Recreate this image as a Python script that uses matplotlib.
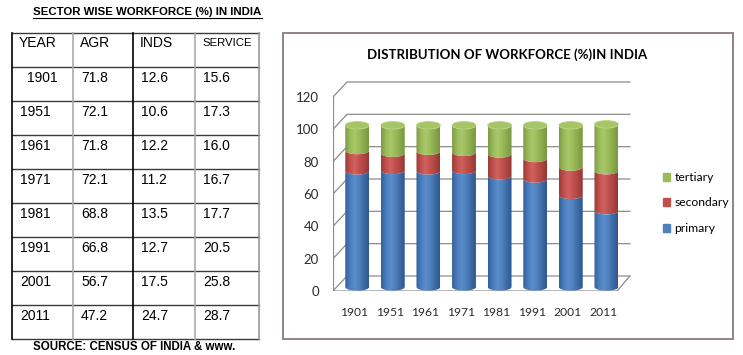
import numpy as np
import matplotlib
matplotlib.use('Agg')
import matplotlib.pyplot as plt
from matplotlib.patches import PathPatch, Ellipse, Rectangle, Patch
from matplotlib.path import Path
from matplotlib.colors import LinearSegmentedColormap

# data (census of india, sector wise workforce %)
years = ['1901', '1951', '1961', '1971', '1981', '1991', '2001', '2011']
agr = [71.8, 72.1, 71.8, 72.1, 68.8, 66.8, 56.7, 47.2]
inds = [12.6, 10.6, 12.2, 11.2, 13.5, 12.7, 17.5, 24.7]
service = [15.6, 17.3, 16.0, 16.7, 17.7, 20.5, 25.8, 28.7]
table_header = ['YEAR', 'AGR', 'INDS', 'SERVICE']
series_names = ['primary', 'secondary', 'tertiary']
yticks = [0, 20, 40, 60, 80, 100, 120]

W, H = 743, 355
fig = plt.figure(figsize=(W/100, H/100), dpi=100)

# overlay in pixel coords for the table and the chart frame
ov = fig.add_axes([0, 0, 1, 1])
ov.set_xlim(0, W)
ov.set_ylim(H, 0)
ov.axis('off')

tfont = 'Liberation Sans'
ov.text(33, 12, 'SECTOR WISE WORKFORCE (%) IN INDIA', fontsize=8.2, fontweight='bold',
        family=tfont, va='center', ha='left')
ov.plot([33, 262], [17.5, 17.5], color='black', lw=0.8)

col_x = [12, 73, 133, 195, 259]
col_colors = ['black', '#aaaaaa', 'black', '#aaaaaa', '#999999']
row_y = [33 + 34*k for k in range(10)]
for y in row_y:
    ov.plot([col_x[0], col_x[-1]], [y, y], color='#3a3a3a', lw=1.0)
for x, c in zip(col_x, col_colors):
    ov.plot([x, x], [row_y[0], row_y[-1]], color=c, lw=1.2)

for j, h in enumerate(table_header):
    fs = 8.2 if h == 'SERVICE' else 10
    ov.text(col_x[j] + 7, row_y[0] + 10, h, fontsize=fs, family=tfont, va='center', ha='left')

for i in range(len(years)):
    yy = row_y[i+1] + 11
    xoff = 15 if i == 0 else 8
    vals = [years[i], '%.1f' % agr[i], '%.1f' % inds[i], '%.1f' % service[i]]
    for j, v in enumerate(vals):
        ov.text(col_x[j] + (xoff if j == 0 else 8), yy, v, fontsize=10, family=tfont,
                va='center', ha='left')

ov.text(33, 347, 'SOURCE: CENSUS OF INDIA & www.', fontsize=8.3, fontweight='bold',
        family=tfont, va='center', ha='left')

# chart frame + title
ov.add_patch(Rectangle((283, 33), 450, 306, fill=False, edgecolor='#8a7b7b', lw=1.3))
ov.text(507, 55, 'DISTRIBUTION OF WORKFORCE (%)IN INDIA', ha='center', va='center',
        family='Lato', fontweight='bold', fontsize=9.5)

# chart axes, data coords
sx, sy = 35.6, 1.6167
ax = fig.add_axes([(354 - 0.6*sx)/W, 1 - 291/H, 8.55*sx/W, 130*sy/H])
ax.set_facecolor('none')
xlim = (-0.6, 7.95)
ylim = (0, 130)

gx0 = -0.59
dx = 14/sx
dy = 15/sy
xback = 7.75
gcol = '#8c8c8c'
for v in yticks:
    ax.plot([gx0, gx0 + dx, xback], [v, v + dy, v + dy], color=gcol, lw=0.9, zorder=1)
ax.plot([gx0, gx0], [0, 120], color=gcol, lw=0.9, zorder=1)
ax.plot([gx0, 7.39, xback], [0, 0, dy], color=gcol, lw=0.9, zorder=1)

blue_cm = LinearSegmentedColormap.from_list('b', ['#33609a', '#4a7dbd', '#5b8ccb', '#4f81bd', '#3c6aa5', '#30588e'])
red_cm = LinearSegmentedColormap.from_list('r', ['#9a3b38', '#c0504d', '#cf625f', '#c0504d', '#ad4542', '#933634'])
green_cm = LinearSegmentedColormap.from_list('g', ['#7c9a44', '#9bbb59', '#a9c86a', '#9bbb59', '#8aa94c', '#79973f'])
grad = np.linspace(0, 1, 64).reshape(1, -1)


def cylinderSegment(ax, c, w, y0, y1, b, cmap, z):
    t = np.linspace(np.pi, 2*np.pi, 40)
    bot = np.column_stack([c + w/2*np.cos(t), y0 + b*np.sin(t)])
    top = np.column_stack([c + w/2*np.cos(t[::-1]), y1 + b*np.sin(t[::-1])])
    verts = np.vstack([[c - w/2, y1], bot, top, [c - w/2, y1]])
    patch = PathPatch(Path(verts, closed=True), facecolor='none', edgecolor='none')
    ax.add_patch(patch)
    im = ax.imshow(grad, cmap=cmap, extent=(c - w/2, c + w/2, y0 - b, y1), aspect='auto',
                   zorder=z, interpolation='bicubic')
    im.set_clip_path(patch)


bw = 0.67
base = 2.5
b = 2.3
for i in range(len(years)):
    c = i + 0.09
    y0 = base
    for vals, cm in [(agr, blue_cm), (inds, red_cm), (service, green_cm)]:
        cylinderSegment(ax, c, bw, y0, y0 + vals[i], b, cm, 3)
        y0 += vals[i]
    ax.add_patch(Ellipse((c, y0), bw, 2*b, facecolor='#a6c468', edgecolor='#b8d47f', lw=0.6, zorder=4))

ax.set_xlim(*xlim)
ax.set_ylim(*ylim)
ax.set_yticks(yticks)
ax.set_yticklabels([str(v) for v in yticks])
ax.set_xticks(range(len(years)))
ax.set_xticklabels(years)
ax.tick_params(axis='y', length=0, pad=10, labelsize=9.5, labelcolor='#2a2a2a')
ax.tick_params(axis='x', length=0, pad=11.5, labelsize=8.7, labelcolor='#2a2a2a')
for lab in ax.get_xticklabels() + ax.get_yticklabels():
    lab.set_family('Lato')
for s in ax.spines.values():
    s.set_visible(False)

handles = [Patch(color='#9bbb59', label=series_names[2]),
           Patch(color='#c0504d', label=series_names[1]),
           Patch(color='#4f81bd', label=series_names[0])]
fig.legend(handles=handles, loc='center left', bbox_to_anchor=(652/W, 1 - 203/H), frameon=False,
           prop={'family': 'Lato', 'size': 8.7}, handlelength=0.6, handleheight=0.6,
           handletextpad=0.35, labelspacing=1.2)

fig.savefig('out.png', dpi=100)
